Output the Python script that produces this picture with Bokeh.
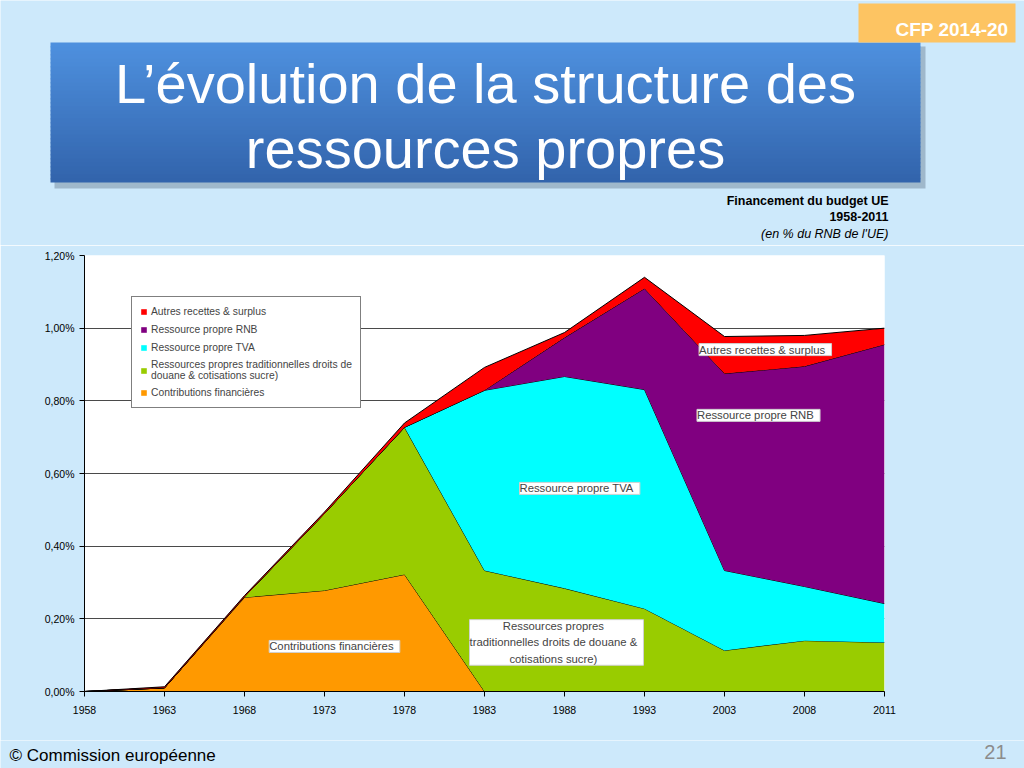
from bokeh.plotting import figure
from bokeh.layouts import column
from bokeh.models import FixedTicker, Range1d, Legend, LegendItem, Label
from bokeh.embed import file_html
from bokeh.resources import INLINE

# ---------------- data (values in % of GNI) ----------------
years = ["1958", "1963", "1968", "1973", "1978", "1983", "1988", "1993", "2003", "2008", "2011"]
contributions = [0.0, 0.010, 0.259, 0.278, 0.322, 0.0, 0.0, 0.0, 0.0, 0.0, 0.0]
rpt = [0.0, 0.0, 0.002, 0.212, 0.405, 0.333, 0.284, 0.228, 0.113, 0.140, 0.135]
tva = [0.0, 0.0, 0.0, 0.0, 0.0, 0.496, 0.583, 0.603, 0.220, 0.149, 0.107]
rnb = [0.0, 0.0, 0.0, 0.0, 0.0, 0.0, 0.107, 0.278, 0.542, 0.606, 0.713]
autres = [0.0, 0.003, 0.003, 0.004, 0.012, 0.063, 0.014, 0.031, 0.102, 0.085, 0.045]
y_ticks = [0.0, 0.2, 0.4, 0.6, 0.8, 1.0, 1.2]
y_tick_labels = ["0,00%", "0,20%", "0,40%", "0,60%", "0,80%", "1,00%", "1,20%"]

names = ["Contributions financières",
         "Ressources propres traditionnelles droits de\ndouane & cotisations sucre)",
         "Ressource propre TVA",
         "Ressource propre RNB",
         "Autres recettes & surplus"]
series = [contributions, rpt, tva, rnb, autres]
colors = ["#FF9900", "#99CC00", "#00FFFF", "#800080", "#FF0000"]

FONT = "Liberation Sans"
BG = "#cde9fb"
W = 1024


def no_align(f):
    try:
        f.frame_align = False
    except Exception:
        pass


def blank(height, y_top, y_bottom):
    f = figure(width=W, height=height, output_backend="svg", toolbar_location=None,
               x_range=Range1d(start=0, end=W), y_range=Range1d(start=y_bottom, end=y_top),
               x_axis_location=None, y_axis_location=None, min_border=0)
    f.grid.visible = False
    f.outline_line_color = None
    f.background_fill_color = BG
    f.border_fill_color = BG
    no_align(f)
    return f


def txt(f, x, y, text, size, color="black", align="left", style="normal",
        baseline="middle"):
    f.add_layout(Label(x=x, y=y, text=text, text_font=FONT, text_font_size=size,
                       text_color=color, text_align=align, text_baseline=baseline,
                       text_font_style=style))


# ---------------- header (slide title etc.) ----------------
hdr = blank(245, 0, 245)
hdr.quad(left=[54], right=[925], top=[46], bottom=[188], fill_color="#4a5f73",
         fill_alpha=0.35, line_color=None)
top_c = (78, 144, 222)
bot_c = (50, 100, 172)
n = 35
tops, bottoms, cols = [], [], []
for i in range(n):
    t = i / (n - 1)
    c = tuple(int(round(top_c[k] + (bot_c[k] - top_c[k]) * t)) for k in range(3))
    tops.append(42 + 140 * i / n)
    bottoms.append(min(42 + 140 * (i + 1) / n + 0.7, 182))
    cols.append("#%02x%02x%02x" % c)
hdr.quad(left=[50] * n, right=[920] * n, top=tops, bottom=bottoms, fill_color=cols,
         line_color=None)
txt(hdr, 485, 83, "L’évolution de la structure des", "56px", color="white",
    align="center", baseline="alphabetic")
txt(hdr, 485, 148, "ressources propres", "56px", color="white", align="center",
    baseline="alphabetic")

hdr.quad(left=[858], right=[1015], top=[3], bottom=[42], fill_color="#fdc462",
         line_color=None)
txt(hdr, 1008, 29, "CFP 2014-20", "19px", color="white", align="right", style="bold",
    baseline="alphabetic")

txt(hdr, 888, 200, "Financement du budget UE", "12.5px", align="right", style="bold")
txt(hdr, 888, 216, "1958-2011", "12.5px", align="right", style="bold")
txt(hdr, 888, 233, "(en % du RNB de l'UE)", "12.5px", align="right", style="italic")

# ---------------- chart ----------------
x = list(range(len(years)))
chart = figure(width=W, height=495, output_backend="svg", toolbar_location=None,
               x_range=Range1d(start=0, end=len(years) - 1), y_range=Range1d(start=0, end=1.2),
               min_border_left=84, min_border_right=140, min_border_top=10,
               min_border_bottom=49)
chart.border_fill_color = BG
chart.background_fill_color = "white"
chart.outline_line_color = None
no_align(chart)

areas = []
base = [0.0] * len(x)
for s, c in zip(series, colors):
    top = [b + v for b, v in zip(base, s)]
    areas.append(chart.varea(x=x, y1=base, y2=top, fill_color=c))
    chart.line(x=x, y=top, line_color="black", line_width=1)
    base = top

chart.xaxis.ticker = FixedTicker(ticks=x)
chart.xaxis.major_label_overrides = {i: y for i, y in zip(x, years)}
chart.yaxis.ticker = FixedTicker(ticks=y_ticks)
chart.yaxis.major_label_overrides = {t: l for t, l in zip(y_ticks, y_tick_labels)}
for ax in (chart.xaxis[0], chart.yaxis[0]):
    ax.axis_line_color = "black"
    ax.major_tick_line_color = "black"
    ax.major_tick_in = 0
    ax.major_tick_out = 5
    ax.minor_tick_line_color = None
    ax.major_label_text_font = FONT
    ax.major_label_text_font_size = "10.5px"
    ax.major_label_text_color = "black"
chart.xaxis.major_label_standoff = 9
chart.yaxis.major_label_standoff = 5
chart.xgrid.grid_line_color = None
chart.ygrid.grid_line_color = "#4a4a4a"
chart.ygrid.grid_line_width = 1

order = [4, 3, 2, 1, 0]
legend = Legend(items=[LegendItem(label=names[i], renderers=[areas[i]]) for i in order],
                location=(47, 283), label_text_font=FONT, label_text_font_size="10.3px",
                glyph_width=7, glyph_height=7, label_height=13, spacing=5, padding=8,
                label_standoff=4, border_line_color="black", border_line_width=1,
                background_fill_color="white", background_fill_alpha=1.0)
chart.add_layout(legend)


def chart_label(xv, yv, text):
    chart.add_layout(Label(x=xv, y=yv, text=text, text_font=FONT, text_font_size="11.3px",
                           text_align="center", text_baseline="middle", text_line_height=1.4,
                           background_fill_color="white", border_line_color="#d0d0d0"))


chart_label(3.125, 0.124, " Contributions financières ")
chart_label(6.19, 0.559, " Ressource propre TVA ")
chart_label(8.425, 0.760, " Ressource propre RNB ")
chart_label(8.51, 0.941, " Autres recettes & surplus ")
chart_label(5.9, 0.135, " Ressources propres \n traditionnelles droits de douane & \n cotisations sucre) ")

# ---------------- footer ----------------
ftr = blank(28, 740, 768)
txt(ftr, 9, 755, "© Commission européenne", "17px")
txt(ftr, 1006, 751, "21", "20px", color="#8c8c8c", align="right")

p = column(hdr, chart, ftr, spacing=0)

open("out.html", "w").write(file_html(p, INLINE))
